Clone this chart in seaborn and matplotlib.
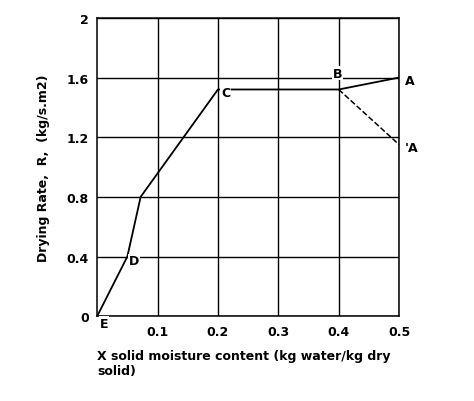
import matplotlib
matplotlib.use("Agg")
import matplotlib.pyplot as plt
import seaborn as sns
import pandas as pd

# Drying rate curve E-D-C-B-A and the alternative start B-A'
curve_x = [0.0, 0.05, 0.072, 0.2, 0.4, 0.5]
curve_y = [0.0, 0.4, 0.8, 1.52, 1.52, 1.6]
alt_x = [0.4, 0.5]
alt_y = [1.52, 1.15]
point_labels = ["E", "D", "C", "B", "A", "'A"]
label_x = [0.005, 0.053, 0.205, 0.39, 0.51, 0.51]
label_y = [-0.05, 0.37, 1.50, 1.63, 1.58, 1.13]
x_ticks = [0.1, 0.2, 0.3, 0.4, 0.5]
y_ticks = [0, 0.4, 0.8, 1.2, 1.6, 2]
y_tick_labels = ["0", "0.4", "0.8", "1.2", "1.6", "2"]

sns.set_style("white")
plt.rcParams["text.color"] = "black"
plt.rcParams["axes.labelcolor"] = "black"
plt.rcParams["xtick.color"] = "black"
plt.rcParams["ytick.color"] = "black"
fig = plt.figure(figsize=(4.74, 4.02), dpi=100)
ax = fig.add_axes([0.205, 0.211, 0.637, 0.742])

main = pd.DataFrame({"x": curve_x, "y": curve_y})
alt = pd.DataFrame({"x": alt_x, "y": alt_y})
sns.lineplot(data=main, x="x", y="y", color="black", linewidth=1.3, sort=False, ax=ax)
sns.lineplot(data=alt, x="x", y="y", color="black", linewidth=1.1, linestyle="--", sort=False, ax=ax)

for lab, lx, ly in zip(point_labels, label_x, label_y):
    ax.text(lx, ly, lab, fontsize=9, fontweight="bold", ha="left", va="center",
            bbox=dict(facecolor="white", edgecolor="none", pad=0.5))

ax.set_xlim(0, 0.5)
ax.set_ylim(0, 2)
ax.set_xticks(x_ticks)
ax.set_xticklabels([f"{t:.1f}" for t in x_ticks], fontsize=9, fontweight="bold")
ax.set_yticks(y_ticks)
ax.set_yticklabels(y_tick_labels, fontsize=9, fontweight="bold")
ax.grid(True, color="black", linewidth=1.0)
ax.set_axisbelow(True)
for side in ["top", "left", "bottom", "right"]:
    ax.spines[side].set_color("black")
    ax.spines[side].set_linewidth(1.1)
ax.tick_params(length=0, pad=6)
ax.set_xlabel("X solid moisture content (kg water/kg dry\nsolid)", fontsize=9,
              fontweight="bold", ha="left", x=0.0, labelpad=8)
ax.set_ylabel("Drying Rate,  R,  (kg/s.m2)", fontsize=9, fontweight="bold", labelpad=12)

fig.savefig("out.png", dpi=100)
